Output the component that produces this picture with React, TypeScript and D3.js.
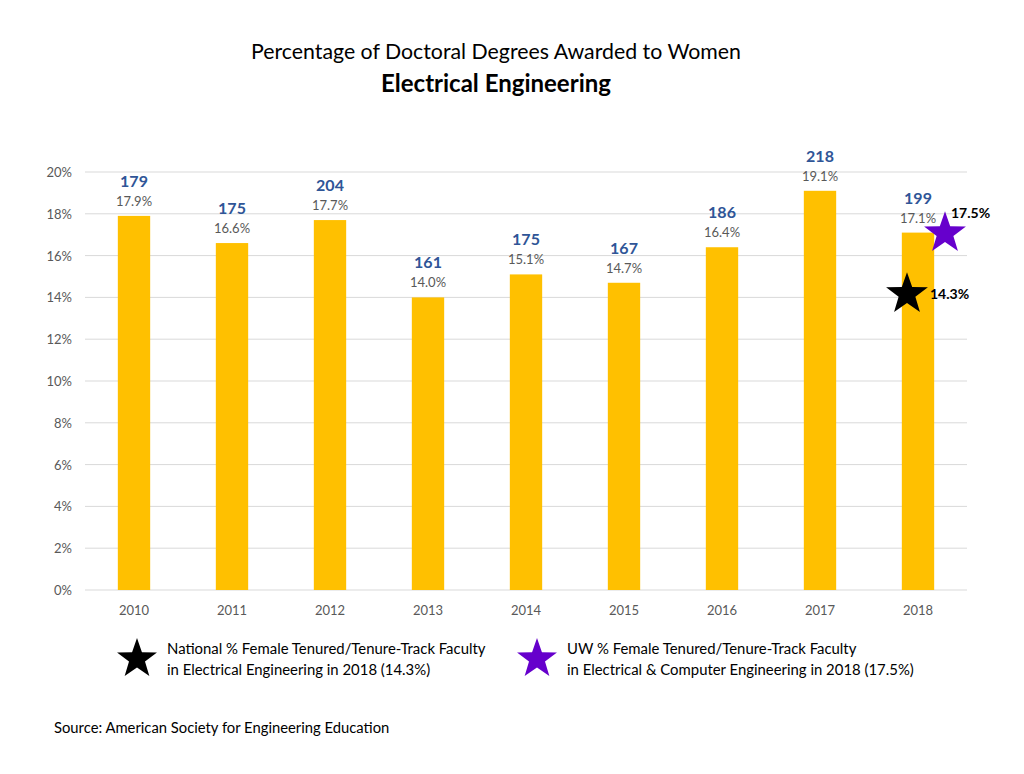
import * as d3 from "d3";
import { useEffect, useRef } from "react";

const years = ["2010", "2011", "2012", "2013", "2014", "2015", "2016", "2017", "2018"];
const percentWomen = [17.9, 16.6, 17.7, 14.0, 15.1, 14.7, 16.4, 19.1, 17.1];
const degreeCounts = [179, 175, 204, 161, 175, 167, 186, 218, 199];
const yTicks = [0, 2, 4, 6, 8, 10, 12, 14, 16, 18, 20];

const facultyYear = "2018";
const nationalFaculty = 14.3;
const uwFaculty = 17.5;

const FONT = "Lato, 'Open Sans', sans-serif";
const W = 1024;
const H = 774;

function starPath(r: number) {
  const pts: [number, number][] = [];
  for (let i = 0; i < 10; i++) {
    const rad = i % 2 === 0 ? r : r * 0.4;
    const a = -Math.PI / 2 + (i * Math.PI) / 5;
    pts.push([rad * Math.cos(a), rad * Math.sin(a)]);
  }
  return d3.line()(pts)! + "Z";
}

export default function App() {
  const ref = useRef<SVGSVGElement | null>(null);

  useEffect(() => {
    const svg = d3.select(ref.current);
    svg.selectAll("*").remove();

    const x = d3.scaleBand().domain(years).range([85, 967]).paddingInner(0.67).paddingOuter(0.335);
    const y = d3.scaleLinear().domain([0, 20]).range([590, 172]);

    // titles
    svg.append("text").attr("x", 496).attr("y", 59).attr("text-anchor", "middle")
      .attr("font-family", FONT).attr("font-size", 21.3).attr("fill", "#000")
      .text("Percentage of Doctoral Degrees Awarded to Women");
    svg.append("text").attr("x", 496).attr("y", 92).attr("text-anchor", "middle")
      .attr("font-family", FONT).attr("font-size", 24).attr("font-weight", "bold").attr("fill", "#000")
      .text("Electrical Engineering");

    // gridlines
    svg.append("g").selectAll("line").data(yTicks).join("line")
      .attr("x1", 85).attr("x2", 967)
      .attr("y1", (d) => y(d)).attr("y2", (d) => y(d))
      .attr("stroke", "#d9d9d9").attr("stroke-width", 1);

    svg.append("g").selectAll("text").data(yTicks).join("text")
      .attr("x", 72).attr("y", (d) => y(d) + 5).attr("text-anchor", "end")
      .attr("font-family", FONT).attr("font-size", 13).attr("fill", "#595959")
      .text((d) => `${d}%`);

    svg.append("g").selectAll("text").data(years).join("text")
      .attr("x", (d) => x(d)! + x.bandwidth() / 2).attr("y", 615).attr("text-anchor", "middle")
      .attr("font-family", FONT).attr("font-size", 13).attr("fill", "#595959")
      .text((d) => d);

    const rows = years.map((yr, i) => ({ yr, pct: percentWomen[i], n: degreeCounts[i] }));

    svg.append("g").selectAll("rect").data(rows).join("rect")
      .attr("x", (d) => x(d.yr)!).attr("width", x.bandwidth())
      .attr("y", (d) => y(d.pct)).attr("height", (d) => y(0) - y(d.pct))
      .attr("fill", "#ffc000");

    svg.append("g").selectAll("text").data(rows).join("text")
      .attr("x", (d) => x(d.yr)! + x.bandwidth() / 2).attr("y", (d) => y(d.pct) - 10)
      .attr("text-anchor", "middle").attr("font-family", FONT).attr("font-size", 13).attr("fill", "#595959")
      .text((d) => `${d.pct.toFixed(1)}%`);

    svg.append("g").selectAll("text").data(rows).join("text")
      .attr("x", (d) => x(d.yr)! + x.bandwidth() / 2).attr("y", (d) => y(d.pct) - 29)
      .attr("text-anchor", "middle").attr("font-family", FONT).attr("font-size", 16)
      .attr("font-weight", "bold").attr("fill", "#2f5597")
      .text((d) => d.n);

    // faculty markers
    const cx = x(facultyYear)! + x.bandwidth() / 2;
    const star = starPath(22);
    svg.append("path").attr("d", star)
      .attr("transform", `translate(${cx - 11},${y(nationalFaculty) + 3})`).attr("fill", "#000");
    svg.append("text").attr("x", cx + 12).attr("y", y(nationalFaculty) + 8)
      .attr("font-family", FONT).attr("font-size", 14).attr("font-weight", "bold").attr("fill", "#000")
      .text(`${nationalFaculty}%`);
    svg.append("path").attr("d", star)
      .attr("transform", `translate(${cx + 27},${y(uwFaculty) + 9})`).attr("fill", "#6600cc");
    svg.append("text").attr("x", cx + 33).attr("y", y(uwFaculty) - 6)
      .attr("font-family", FONT).attr("font-size", 14).attr("font-weight", "bold").attr("fill", "#000")
      .text(`${uwFaculty}%`);

    // legend
    const legend = [
      { x: 137, color: "#000", lines: ["National % Female Tenured/Tenure-Track Faculty", `in Electrical Engineering in ${facultyYear} (${nationalFaculty}%)`] },
      { x: 537, color: "#6600cc", lines: ["UW % Female Tenured/Tenure-Track Faculty", `in Electrical & Computer Engineering in ${facultyYear} (${uwFaculty}%)`] },
    ];
    legend.forEach((l) => {
      svg.append("path").attr("d", starPath(21)).attr("transform", `translate(${l.x},${659})`).attr("fill", l.color);
      l.lines.forEach((t, i) => {
        svg.append("text").attr("x", l.x + 30).attr("y", 654 + i * 21)
          .attr("font-family", FONT).attr("font-size", 14.9).attr("fill", "#000").text(t);
      });
    });

    svg.append("text").attr("x", 54).attr("y", 733)
      .attr("font-family", FONT).attr("font-size", 14.8).attr("fill", "#000")
      .text("Source: American Society for Engineering Education");
  }, []);

  return (
    <svg ref={ref} width={W} height={H} style={{ position: "absolute", left: 0, top: 0, background: "#fff" }} />
  );
}
